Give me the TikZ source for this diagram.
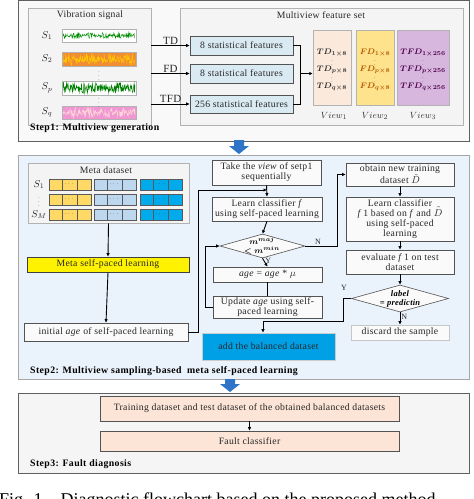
\documentclass[tikz,border=0pt]{standalone}
\usepackage{amsmath}
\usepackage{fontspec}
\setmainfont{Liberation Serif}[LetterSpace=3]
\usetikzlibrary{arrows.meta,shapes.geometric,calc}
\definecolor{featB}{RGB}{218,234,242}
\definecolor{viewA}{RGB}{251,233,220}
\definecolor{viewB}{RGB}{255,226,140}
\definecolor{viewC}{RGB}{216,183,222}
\definecolor{cellY}{RGB}{255,217,102}
\definecolor{cellB}{RGB}{189,215,238}
\definecolor{cellC}{RGB}{0,170,235}
\definecolor{addB}{RGB}{0,160,230}
\definecolor{peach}{RGB}{252,228,214}
\definecolor{stepBg}{RGB}{234,242,251}
\definecolor{bigArr}{RGB}{46,117,200}
\definecolor{ylw}{RGB}{255,242,0}
\definecolor{orng}{RGB}{240,140,50}
\definecolor{pnk}{RGB}{240,150,210}
\newcommand\fsmain{\fontsize{9.7}{10.2}\selectfont}
\newcommand\mybox[7]{\node[#6, minimum width={(#4-#2)*1pt}, minimum height={(#5-#3)*1pt}] (#1) at ({(#2+#4)/2},{(#3+#5)/2}) {#7};}
\begin{document}
\begin{tikzpicture}[x=1pt,y=-1pt,
  panel/.style={draw=gray!75!black, line width=0.8pt, inner sep=0pt},
  subpanel/.style={draw=gray!60, fill=gray!9, line width=0.6pt, inner sep=0pt},
  bx/.style={draw=gray!65!black, fill=white!96!gray, line width=0.6pt, inner sep=0.5pt, align=center, font=\fsmain, text=black!85},
  lbl/.style={font=\fsmain, text=black!85, inner sep=1pt},
  ynl/.style={font=\fontsize{8}{9}\selectfont, text=black!85, inner sep=1pt},
  steplbl/.style={font=\fontsize{9.8}{10.5}\selectfont\bfseries\addfontfeature{LetterSpace=4}, anchor=west, inner sep=0pt},
  arr/.style={-{Latex[length=3.5pt,width=3.5pt]}, line width=0.9pt},
  ln/.style={line width=0.9pt},
  bigarrow/.style={fill=bigArr, draw=none}]
\useasboundingbox (0,0) rectangle (474,499);
% ================= Step 1
\mybox{stepA}{18}{0}{469}{141}{panel, fill=gray!5}{}
\mybox{vib}{28}{8}{151}{125}{subpanel}{}
\node[lbl] (vibt) at (90,15.5) {Vibration signal};
\mybox{sa}{62}{29}{136}{42}{draw=gray!60, fill=white, inner sep=0pt}{}
\mybox{sb}{62}{52}{136}{66}{draw=gray!60, fill=orng, inner sep=0pt}{}
\mybox{sc}{62}{81}{136}{95}{draw=gray!60, fill=white, inner sep=0pt}{}
\mybox{sd}{62}{106}{136}{119}{draw=gray!60, fill=pnk, inner sep=0pt}{}
\pgfmathsetseed{7}
\draw[green!55!black, line width=0.4pt] plot[domain=63:135, samples=160] (\x,{35.5+3*rand*(0.4+0.6*abs(sin(\x*13)))});
\draw[orange!40!yellow, line width=0.4pt] plot[domain=63:135, samples=160] (\x,{59+6*rand*(0.5+0.5*abs(sin(\x*9)))});
\draw[green!50!black, line width=0.5pt] plot[domain=63:135, samples=160] (\x,{88+6*rand*(0.5+0.5*abs(sin(\x*7)))});
\draw[pink!60!white, line width=0.4pt] plot[domain=63:135, samples=160] (\x,{112.5+5.5*rand*(0.5+0.5*abs(sin(\x*11)))});
\node[lbl] (la) at (47,35.5) {$S_1$};
\node[lbl] (lb) at (47,58.5) {$S_2$};
\node[lbl] (ldA) at (99,73.5) {\tiny$\vdots$};
\node[lbl] (lc) at (47,88) {$S_p$};
\node[lbl] (ldB) at (99,100) {\tiny$\vdots$};
\node[lbl] (ld) at (47,112.5) {$S_q$};
\mybox{mv}{180}{8}{463}{125}{subpanel}{}
\node[lbl] (mvt) at (321,15.5) {Multiview feature set};
\mybox{fa}{190}{36}{293}{55}{bx, fill=featB}{8 statistical features}
\mybox{fb}{190}{64}{293}{83}{bx, fill=featB}{8 statistical features}
\mybox{fc}{190}{95}{293}{113}{bx, fill=featB}{256 statistical features}
\draw[arr] (vib.east |- fa.west) -- node[lbl, above, font=\fontsize{11}{12}\selectfont] {TD} (fa.west);
\draw[arr] (vib.east |- fb.west) -- node[lbl, above, font=\fontsize{11}{12}\selectfont] {FD} (fb.west);
\draw[arr] (vib.east |- fc.west) -- node[lbl, above, font=\fontsize{11}{12}\selectfont] {TFD} (fc.west);
\coordinate (brA) at (300,45.5);
\coordinate (brC) at (300,104);
\coordinate (brB) at (300,73.5);
\draw[ln] (fa.east) -- (brA) -- (brC) -- (fc.east);
\mybox{va}{313}{30}{351}{105}{draw=gray!60, fill=viewA, inner sep=0pt}{}
\mybox{vb}{356}{30}{394}{105}{draw=gray!60, fill=viewB, inner sep=0pt}{}
\mybox{vc}{397}{30}{449}{105}{draw=gray!60, fill=viewC, inner sep=0pt}{}
\draw[arr] (brB) -- (va.west |- brB);
\begin{scope}[every node/.style={inner sep=0pt, font=\fontsize{8.5}{9}\selectfont, text=black!80}]
\node (ta) at (332,53) {$\boldsymbol{TD_{1\times 8}}$};
\node (tb) at (332,62) {\tiny$\vdots$};
\node (tc) at (332,70) {$\boldsymbol{TD_{p\times 8}}$};
\node (td) at (332,79) {\tiny$\vdots$};
\node (te) at (332,87) {$\boldsymbol{TD_{q\times 8}}$};
\node[text=orange!70!black] (ua) at (375,53) {$\boldsymbol{FD_{1\times 8}}$};
\node (ub) at (375,62) {\tiny$\vdots$};
\node[text=orange!70!black] (uc) at (375,70) {$\boldsymbol{FD_{p\times 8}}$};
\node (ud) at (375,79) {\tiny$\vdots$};
\node[text=orange!70!black] (ue) at (375,87) {$\boldsymbol{FD_{q\times 8}}$};
\node[text=violet!60!black] (wa) at (423,53) {$\boldsymbol{TFD_{1\times 256}}$};
\node (wb) at (423,62) {\tiny$\vdots$};
\node[text=violet!60!black] (wc) at (423,70) {$\boldsymbol{TFD_{p\times 256}}$};
\node (wd) at (423,79) {\tiny$\vdots$};
\node[text=violet!60!black] (we) at (423,87) {$\boldsymbol{TFD_{q\times 256}}$};
\node[font=\fontsize{9.5}{10}\selectfont] (xa) at (334,116) {$View_1$};
\node[font=\fontsize{9.5}{10}\selectfont] (xb) at (375,116) {$View_2$};
\node[font=\fontsize{9.5}{10}\selectfont] (xc) at (423,116) {$View_3$};
\end{scope}
\node[steplbl] (s1l) at (30,128) {Step1: Multiview generation};
\fill[bigarrow] (234,140) -- (244,140) -- (244,146) -- (249,146) -- (239,154) -- (229,146) -- (234,146) -- cycle;
% ================= Step 2
\mybox{stepB}{18}{155}{469}{379}{panel, fill=stepBg, draw=gray!70}{}
\mybox{meta}{28}{163}{189}{223}{subpanel}{}
\node[lbl] (metat) at (106,170) {Meta dataset};
\foreach \yy in {179,194,209} {
  \foreach \aa/\cc in {49/cellY,94/cellB,140/cellC} {
    \draw[draw=gray!70!black, fill=\cc, line width=0.5pt] (\aa,\yy) rectangle ++(42,11);
    \draw[draw=gray!70!black, line width=0.5pt] (\aa+13,\yy) -- (\aa+13,\yy+11) (\aa+28,\yy) -- (\aa+28,\yy+11);
    \node[inner sep=0pt, font=\tiny] at (\aa+20.5,\yy+5) {$\cdots$};
  }
}
\node[lbl] (ma) at (39,184.5) {$S_1$};
\node[lbl] (mb) at (39,199) {\tiny$\vdots$};
\node[lbl] (mc) at (39,214.5) {$S_M$};
\mybox{msp}{27}{257}{189}{272}{bx, fill=ylw, draw=gray!50!black}{Meta self-paced learning}
\mybox{init}{24}{323}{188}{341}{bx}{initial \textit{age} of self-paced learning}
\mybox{take}{212}{160}{321}{185}{bx}{Take the \textit{view} of setp1\\sequentially}
\mybox{learn}{212}{197}{322}{221}{bx}{Learn classifier \textit{f}\\using self-paced learning}
\mybox{dia}{220}{234}{305}{258}{draw=gray!65!black, fill=white!96!gray, line width=0.6pt, diamond, inner sep=0pt}{}
\node[inner sep=0pt, align=center, font=\fontsize{8.5}{8.5}\selectfont] (diat) at (262,246) {$\boldsymbol{m^{maj}}$\\$\boldsymbol{<m^{min}}$};
\mybox{age}{213}{267}{322}{282}{bx}{\textit{age} = \textit{age} * $\mu$}
\mybox{upd}{213}{296}{322}{318}{bx}{Update \textit{age} using self-\\paced learning}
\mybox{add}{202}{333}{335}{360}{bx, fill=addB, draw=gray!40}{add the balanced dataset}
\mybox{obt}{346}{163}{454}{186}{bx}{obtain new training\\dataset $\tilde{D}$}
\mybox{lf}{346}{197}{454}{241}{bx}{Learn classifier\\\textit{f}\,1 based on \textit{f} and $\tilde{D}$\\using self-paced\\learning}
\mybox{ev}{346}{250}{454}{274}{bx}{evaluate \textit{f}\,1 on test\\dataset}
\mybox{dib}{351.5}{285}{448.5}{312}{draw=gray!65!black, fill=white!96!gray, line width=0.6pt, diamond, inner sep=0pt}{}
\node[inner sep=0pt, align=center, font=\fontsize{8.5}{9}\selectfont\bfseries\itshape] (dibt) at (400,298.5) {label\\= predictin};
\mybox{disc}{351}{325}{449}{340}{bx, draw=gray!45}{discard the sample}
\node[steplbl] (s2l) at (30,371) {Step2: Multiview sampling-based\ \ meta self-paced learning};
% step 2 connectors
\draw[arr] (meta.south) -- (msp.north);
\draw[arr] (msp.south) -- (init.north);
\coordinate (bA) at (198,190);
\coordinate (jA) at (learn.north |- bA);
\draw[arr] (init.east) -| (bA) -- (jA);
\draw[arr] (take.south) -- (learn.north);
\draw[arr] (learn.south) -- (dia.north);
\draw[arr] (dia.south) -- node[ynl, right, pos=0.3] {Y} (age.north);
\draw[ln] (age.south) -- (upd.north);
\coordinate (bB) at (205,246);
\draw[arr] (upd.west) -| (bB) -- (dia.west);
\coordinate (bC) at (337,246);
\draw[arr] (dia.east) -- node[ynl, above, pos=0.4] {N} (bC) |- (obt.west);
\draw[arr] (obt.south) -- (lf.north);
\draw[arr] (lf.south) -- (ev.north);
\draw[arr] (ev.south) -- (dib.north);
\draw[arr] (dib.south) -- node[ynl, right, pos=0.35] {N} (disc.north);
\coordinate (bD) at (343,298.5);
\coordinate (bE) at (343,321);
\coordinate (bF) at (263,321);
\draw[arr] (dib.west) -- (bD) -- (bE) -- (bF) -- (bF |- add.north);
\node[ynl] (ylab) at (344,288) {Y};
\fill[bigarrow] (225,379) -- (235,379) -- (235,384) -- (240,384) -- (230,392) -- (220,384) -- (225,384) -- cycle;
% ================= Step 3
\mybox{stepC}{18}{393}{469}{473}{panel, fill=gray!8}{}
\mybox{tr}{100}{396}{399}{421}{bx, fill=peach}{Training dataset and test dataset of the obtained balanced datasets}
\mybox{fcl}{100}{431}{399}{451}{bx, fill=peach}{Fault classifier}
\draw[arr] (tr.south) -- (fcl.north);
\node[steplbl] (s3l) at (30,464) {Step3: Fault diagnosis};
% caption (cut by page edge)
\node[anchor=base west, inner sep=0pt, font=\fontsize{18}{20}\selectfont\addfontfeature{LetterSpace=0}] (cap) at (-1,505) {Fig. 1\quad Diagnostic flowchart based on the proposed method};
\end{tikzpicture}
\end{document}
